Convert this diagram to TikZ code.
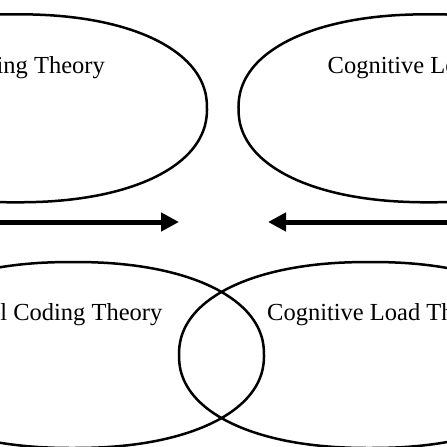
\documentclass[tikz,border=0pt]{standalone}
\usepackage{fontspec}
\setmainfont{Liberation Serif}
\usetikzlibrary{arrows.meta}
\tikzset{
  ovalline/.style={draw=black, line width=2.5pt, line join=round},
  label/.style={inner sep=0pt, font=\fontsize{24.5}{29}\selectfont},
  bigarrow/.style={line width=5pt, -{Triangle[length=18pt,width=18pt]}}
}
% rounded oval (superellipse, exponent 2.2) of half width 191 and half height #2 centred at #1
\newcommand\drawoval[2]{%
  \draw[ovalline, shift={(#1)}] plot[domain=0.5:360.5, samples=181, smooth]
    ({191*sign(cos(\x))*abs(cos(\x))^0.9091},{#2*sign(sin(\x))*abs(sin(\x))^0.9091}) -- cycle;}
\begin{document}
\begin{tikzpicture}[x=1pt,y=-1pt]
\useasboundingbox (0,0) rectangle (447,447);
\clip (0,0) rectangle (447,447);
% centres of the ovals
\coordinate (tl) at (16,108.3);
\coordinate (tr) at (429.5,108.3);
\coordinate (bl) at (73,355);
\coordinate (br) at (370,355);
\drawoval{tl}{94}
\drawoval{tr}{94}
\drawoval{bl}{93}
\drawoval{br}{93}
% labels
\node[label, anchor=base east] (tlt) at (105,73) {Dual Coding Theory};
\node[label, anchor=base west] (trt) at (327.5,73) {Cognitive Load Theory};
\node[label, anchor=base east] (blt) at (162.5,320) {Dual Coding Theory};
\node[label, anchor=base west] (brt) at (267,320) {Cognitive Load Theory};
% arrows
\coordinate (la) at (-5,222);
\coordinate (lb) at (179,222);
\coordinate (ra) at (452,222);
\coordinate (rb) at (268,222);
\draw[bigarrow] (la) -- (lb);
\draw[bigarrow] (ra) -- (rb);
\end{tikzpicture}
\end{document}
